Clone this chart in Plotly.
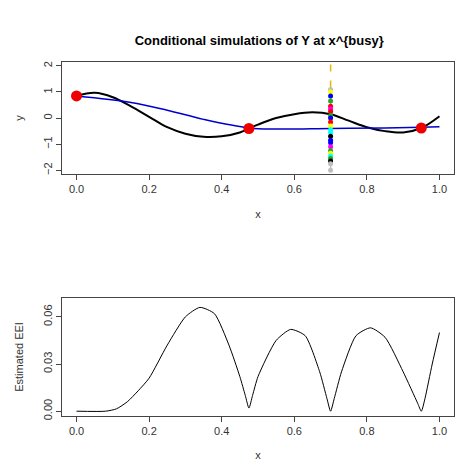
import plotly.graph_objects as go
from plotly.subplots import make_subplots

true_x = [0,0.05,0.1,0.15,0.2,0.25,0.3,0.35,0.4,0.45,0.475,0.5,0.55,0.6,0.65,0.7,0.75,0.8,0.85,0.9,0.95,1.0]
true_y = [0.85,0.97,0.8,0.45,0.05,-0.35,-0.6,-0.72,-0.7,-0.55,-0.4,-0.25,0.0,0.15,0.22,0.15,-0.1,-0.35,-0.5,-0.55,-0.38,0.07]
mean_x = [0,0.15,0.25,0.35,0.475,0.55,0.7,0.85,0.95,1.0]
mean_y = [0.85,0.6,0.3,-0.05,-0.38,-0.42,-0.4,-0.38,-0.35,-0.33]
obs_x = [0,0.475,0.95]
obs_y = [0.85,-0.4,-0.38]
sim_y = [1.1,1.0,0.85,0.65,0.45,0.35,0.25,0.1,0.0,-0.15,-0.3,-0.45,-0.55,-0.7,-0.85,-0.95,-1.1,-1.25,-1.35,-1.45,-1.55,-1.65,-1.75,-2.0]
sim_c = ["#BEBEBE","yellow","blue","#22AA22","red","magenta","red","#22AA22","blue","red","yellow","cyan","cyan","black","blue","blue","magenta","#22AA22","yellow","cyan","#22AA22","black","#BEBEBE","#BEBEBE"]
eei_x = [0,0.08,0.11,0.14,0.17,0.2,0.25,0.3,0.34,0.38,0.42,0.45,0.465,0.475,0.485,0.5,0.55,0.59,0.63,0.67,0.69,0.7,0.71,0.73,0.77,0.81,0.85,0.9,0.94,0.95,0.96,0.98,1.0]
eei_y = [0,0,0.0015,0.006,0.013,0.021,0.042,0.06,0.066,0.062,0.042,0.022,0.01,0.002,0.01,0.022,0.045,0.052,0.048,0.025,0.008,0.0,0.008,0.025,0.048,0.053,0.047,0.025,0.005,0.0,0.008,0.03,0.05]
x_busy = 0.7

fig = make_subplots(rows=2, cols=1)
fig.add_trace(go.Scatter(x=[x_busy,x_busy], y=[1.1,2.05], mode="lines", line=dict(color="#E6B800", dash="dash", width=1.5)), 1, 1)
fig.add_trace(go.Scatter(x=[x_busy,x_busy], y=[-2.05,1.1], mode="lines", line=dict(color="#BEBEBE", width=1.5)), 1, 1)
fig.add_trace(go.Scatter(x=true_x, y=true_y, mode="lines", line=dict(color="black", width=2, shape="spline")), 1, 1)
fig.add_trace(go.Scatter(x=mean_x, y=mean_y, mode="lines", line=dict(color="#0000CC", width=1.5, shape="spline")), 1, 1)
fig.add_trace(go.Scatter(x=[x_busy]*len(sim_y), y=sim_y, mode="markers", marker=dict(color=sim_c, size=5)), 1, 1)
fig.add_trace(go.Scatter(x=obs_x, y=obs_y, mode="markers", marker=dict(color="#EE0000", size=11)), 1, 1)
fig.add_trace(go.Scatter(x=eei_x, y=eei_y, mode="lines", line=dict(color="black", width=1, shape="spline", smoothing=0.6)), 2, 1)

ax = dict(showgrid=False, zeroline=False, showline=True, mirror=True, linecolor="#444", linewidth=1,
          ticks="outside", tickcolor="#444", tickfont=dict(size=11, color="#333"))
fig.update_xaxes(**ax, range=[-0.04,1.04], tickvals=[0,0.2,0.4,0.6,0.8,1.0], ticktext=["0.0","0.2","0.4","0.6","0.8","1.0"],
                 title=dict(text="x", font=dict(size=11)))
fig.update_yaxes(**ax, tickangle=-90)
fig.update_yaxes(range=[-2.15,2.15], tickvals=[-2,-1,0,1,2], domain=[0.68,0.989], title=dict(text="y", font=dict(size=11)), row=1, col=1)
fig.update_yaxes(range=[-0.003,0.072], tickvals=[0,0.03,0.06], ticktext=["0.00","0.03","0.06"], domain=[0.014,0.339],
                 title=dict(text="Estimated EEI", font=dict(size=11)), row=2, col=1)
fig.update_layout(width=474, height=473, showlegend=False, plot_bgcolor="white", paper_bgcolor="white",
                  margin=dict(l=54, r=28, t=50, b=60), font=dict(family="Liberation Sans", color="#333"),
                  title=dict(text="<b>Conditional simulations of Y at x^{busy}</b>", x=0.53, y=0.94, font=dict(size=13, color="black")))
fig.write_html("out.html")
